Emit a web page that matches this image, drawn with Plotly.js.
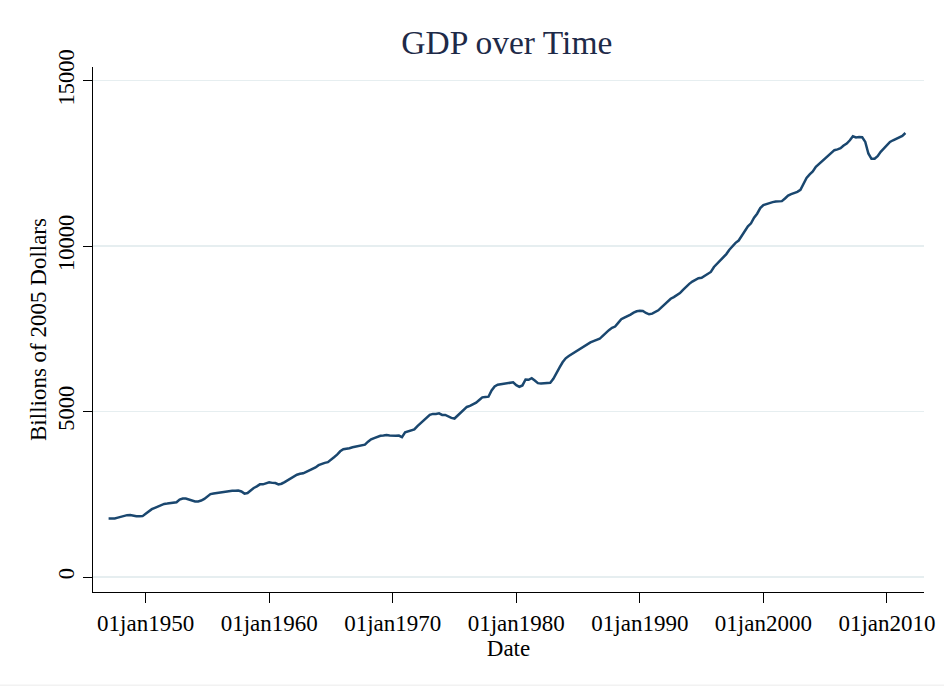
<!DOCTYPE html>
<html>
<head>
<meta charset="utf-8">
<script src="https://cdn.plot.ly/plotly-3.0.1.min.js"></script>
<style>
  html, body { margin: 0; padding: 0; background: #ffffff; }
  #chart { width: 944px; height: 686px; }
</style>
</head>
<body>
<div id="chart"></div>
<script>
const startYear = 1947;
const gdp = [
  1770, 1768, 1770, 1795,   // 1947
  1825, 1855, 1870, 1872,   // 1948
  1850, 1835, 1835, 1840,   // 1949
  1910, 1990, 2050, 2090,   // 1950
  2130, 2170, 2210, 2220,   // 1951
  2228, 2233, 2260, 2340,   // 1952
  2370, 2372, 2340, 2295,   // 1953
  2285, 2285, 2310, 2360,   // 1954
  2440, 2505, 2525, 2540,   // 1955
  2550, 2560, 2570, 2600,   // 1956
  2610, 2605, 2615, 2585,   // 1957
  2520, 2540, 2620, 2690,   // 1958
  2740, 2800, 2800, 2820,   // 1959
  2860, 2845, 2840, 2800,   // 1960
  2820, 2870, 2930, 2990,   // 1961
  3050, 3090, 3120, 3135,   // 1962
  3180, 3220, 3280, 3310,   // 1963
  3380, 3420, 3450, 3470,   // 1964
  3560, 3620, 3700, 3800,   // 1965
  3860, 3870, 3890, 3920,   // 1966
  3940, 3950, 3975, 4000,   // 1967
  4090, 4160, 4200, 4230,   // 1968
  4270, 4275, 4290, 4275,   // 1969
  4265, 4268, 4275, 4225,   // 1970
  4370, 4400, 4440, 4460,   // 1971
  4560, 4650, 4720, 4800,   // 1972
  4900, 4930, 4925, 4945,   // 1973
  4900, 4900, 4850, 4810,   // 1974
  4790, 4880, 4970, 5070,   // 1975
  5140, 5170, 5210, 5270,   // 1976
  5350, 5430, 5440, 5450,   // 1977
  5640, 5760, 5810, 5825,   // 1978
  5830, 5840, 5870, 5885,   // 1979
  5800, 5750, 5790, 5970,   // 1980
  5960, 6010, 5940, 5860,   // 1981
  5850, 5860, 5850, 5870,   // 1982
  5990, 6140, 6330, 6490,   // 1983
  6610, 6680, 6740, 6790,   // 1984
  6860, 6920, 6990, 7050,   // 1985
  7090, 7130, 7170, 7200,   // 1986
  7290, 7380, 7460, 7530,   // 1987
  7570, 7680, 7790, 7840,   // 1988
  7880, 7930, 7990, 8030,   // 1989
  8045, 8040, 7980, 7940,   // 1990
  7960, 8000, 8060, 8150,   // 1991
  8240, 8330, 8410, 8460,   // 1992
  8510, 8580, 8680, 8780,   // 1993
  8860, 8930, 8990, 9030,   // 1994
  9045, 9100, 9170, 9220,   // 1995
  9370, 9470, 9560, 9640,   // 1996
  9760, 9890, 10010, 10100, // 1997
  10170, 10310, 10470, 10600, // 1998
  10690, 10860, 10980, 11150, // 1999
  11240, 11270, 11320, 11330, // 2000
  11350, 11345, 11360, 11440, // 2001
  11530, 11570, 11600, 11640, // 2002
  11700, 11900, 12060, 12170, // 2003
  12260, 12400, 12480, 12560, // 2004
  12650, 12740, 12830, 12900, // 2005
  12925, 12960, 13040, 13100, // 2006
  13200, 13320, 13285, 13300, // 2007
  13290, 13150, 12800, 12640, // 2008
  12640, 12720, 12850, 12960, // 2009
  13060, 13150, 13200, 13240, // 2010
  13270, 13330, 13420         // 2011
];

const xTickVals = ['1950-01-01', '1960-01-01', '1970-01-01', '1980-01-01', '1990-01-01', '2000-01-01', '2010-01-01'];
const xTickText = ['01jan1950', '01jan1960', '01jan1970', '01jan1980', '01jan1990', '01jan2000', '01jan2010'];
const yTickVals = [0, 5000, 10000, 15000];
const yTickText = ['0', '5000', '10000', '15000'];

// quarter-start dates for each observation
const monthStarts = ['01', '04', '07', '10'];
const dates = gdp.map((v, i) => (startYear + Math.floor(i / 4)) + '-' + monthStarts[i % 4] + '-01');

const serif = 'Liberation Serif, Times New Roman, serif';

const trace = {
  x: dates,
  y: gdp,
  type: 'scatter',
  mode: 'lines',
  line: { color: '#1a476f', width: 2.5 },
  hoverinfo: 'x+y'
};

const layout = {
  width: 944,
  height: 686,
  paper_bgcolor: '#ffffff',
  plot_bgcolor: '#ffffff',
  margin: { l: 93, r: 20, t: 67, b: 94 },
  showlegend: false,
  title: {
    text: 'GDP over Time',
    font: { family: serif, size: 33.5, color: '#1e2a48' },
    x: 0.498, xref: 'paper', xanchor: 'center',
    y: 0.938, yref: 'container', yanchor: 'middle'
  },
  xaxis: {
    type: 'date',
    range: ['1945-09-27', '2013-01-01'],
    tickmode: 'array',
    tickvals: xTickVals,
    ticktext: xTickText,
    ticks: 'outside',
    ticklen: 10,
    tickwidth: 1,
    tickcolor: '#000000',
    showline: true,
    linecolor: '#000000',
    linewidth: 1.2,
    showgrid: false,
    zeroline: false,
    tickfont: { family: serif, size: 23, color: '#000000' },
    title: { text: 'Date', font: { family: serif, size: 23, color: '#000000' }, standoff: 2 }
  },
  yaxis: {
    range: [-453, 15414],
    tickmode: 'array',
    tickvals: yTickVals,
    ticktext: yTickText,
    tickangle: -90,
    ticks: 'outside',
    ticklen: 9,
    tickwidth: 1,
    tickcolor: '#000000',
    showline: true,
    linecolor: '#000000',
    linewidth: 1.2,
    showgrid: true,
    gridcolor: '#e6eef0',
    gridwidth: 1.5,
    zeroline: false,
    tickfont: { family: serif, size: 22.5, color: '#000000' },
    title: { text: 'Billions of 2005 Dollars', font: { family: serif, size: 23, color: '#000000' }, standoff: 0 }
  },
  shapes: [
    { type: 'line', xref: 'paper', yref: 'paper', x0: -0.2, x1: 1.1, y0: -0.178, y1: -0.178,
      line: { color: '#f2f2f2', width: 2 } }
  ]
};

Plotly.newPlot('chart', [trace], layout, { displayModeBar: false, staticPlot: true });
</script>
</body>
</html>
